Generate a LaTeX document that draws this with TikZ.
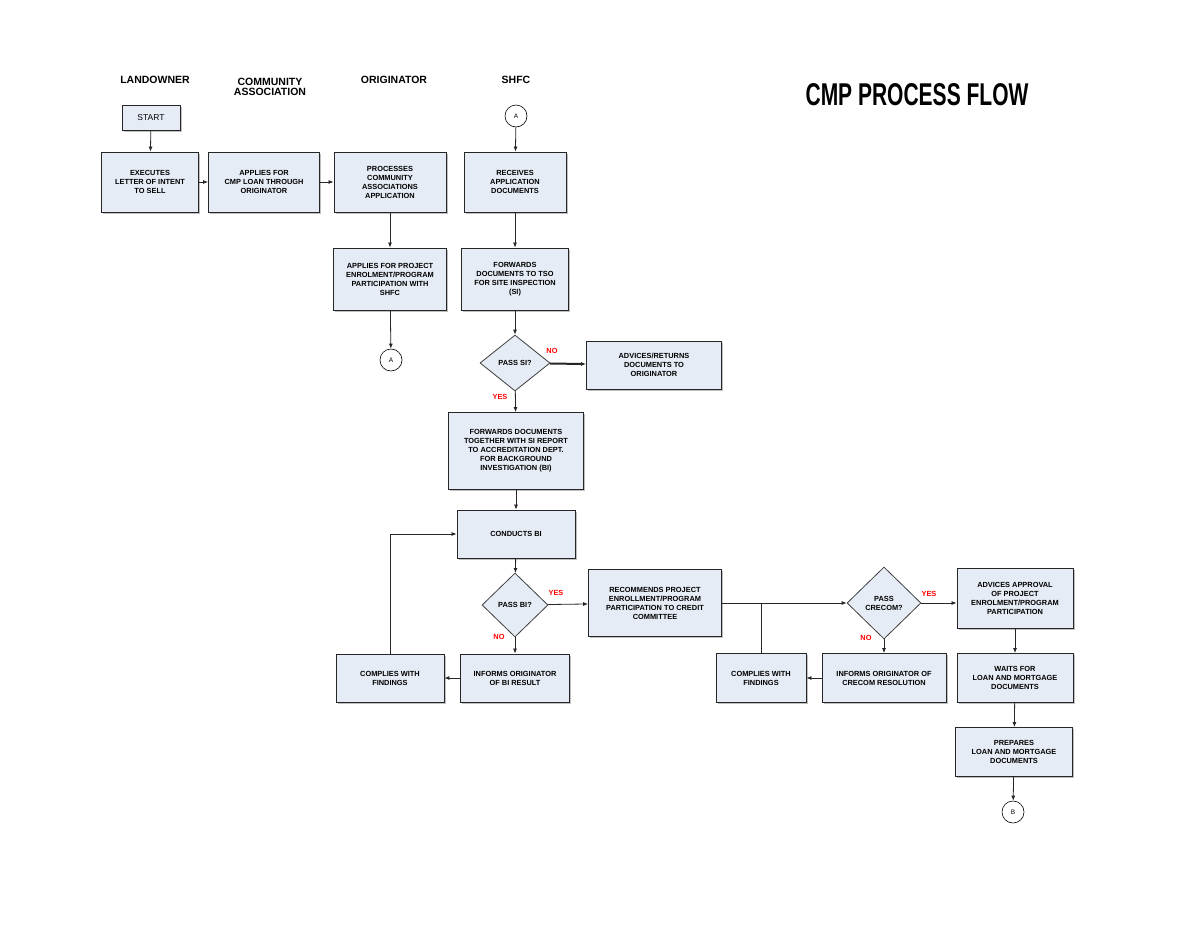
\documentclass[tikz,border=0pt]{standalone}
\usepackage{fontspec}
\setmainfont{Liberation Sans}
\usetikzlibrary{shapes.geometric,arrows.meta,shadows}
\definecolor{boxfill}{HTML}{E6ECF5}
\tikzset{
  box/.style={draw=black!85,line width=0.9pt,fill=boxfill,align=center,inner sep=1pt,
    font=\bfseries\fontsize{7.4}{9}\selectfont,drop shadow={shadow xshift=1.5pt,shadow yshift=-1.5pt,opacity=0.5}},
  dec/.style={diamond,draw=black!75,line width=0.8pt,fill=boxfill,align=center,inner sep=0pt,
    font=\bfseries\fontsize{7.4}{9}\selectfont},
  conn/.style={circle,draw,line width=0.6pt,minimum size=22pt,inner sep=0pt,font=\fontsize{6.5}{7}\selectfont},
  arr/.style={-{Latex[length=5pt,width=4pt]},line width=0.8pt,black!85},
  head/.style={font=\bfseries\fontsize{10.5}{9.5}\selectfont,align=center},
  lab/.style={text=red,font=\bfseries\fontsize{7.4}{8}\selectfont}
}
\begin{document}
\begin{tikzpicture}[x=1pt,y=-1pt]
\useasboundingbox (0,0) rectangle (1200,927);
\fill[white] (0,0) rectangle (1200,927);
\node[head] at (155,80) {LANDOWNER};
\node[head] at (270,87) {COMMUNITY\\ASSOCIATION};
\node[head] at (394,80) {ORIGINATOR};
\node[head] at (516,80) {SHFC};
\node[font=\bfseries\fontsize{30}{30}\selectfont,xscale=0.7,yscale=1.05] at (917,95) {CMP PROCESS FLOW};

\node[box,minimum width=58pt,minimum height=25pt,font=\fontsize{8.5}{9}\selectfont] (start) at (151,118) {START};
\node[box,minimum width=97pt,minimum height=60pt] (exec) at (150,182) {EXECUTES\\LETTER OF INTENT\\TO SELL};
\node[box,minimum width=111pt,minimum height=60pt] (cmp) at (264,182) {APPLIES FOR\\CMP LOAN THROUGH\\ORIGINATOR};
\node[box,minimum width=112pt,minimum height=60pt] (proc) at (390,182) {PROCESSES\\COMMUNITY\\ASSOCIATIONS\\APPLICATION};
\node[box,minimum width=102pt,minimum height=60pt] (recv) at (515,182) {RECEIVES\\APPLICATION\\DOCUMENTS};
\node[conn] (a1) at (516,116) {A};
\node[box,minimum width=113pt,minimum height=62pt] (proj) at (390,279) {APPLIES FOR PROJECT\\ENROLMENT/PROGRAM\\PARTICIPATION WITH\\SHFC};
\node[box,minimum width=107pt,minimum height=62pt] (fwd) at (515,279) {FORWARDS\\DOCUMENTS TO TSO\\FOR SITE INSPECTION\\(SI)};
\node[conn] (a2) at (391,360) {A};
\node[dec,minimum width=70pt,minimum height=56pt] (si) at (515,363) {PASS SI?};
\node[box,minimum width=135pt,minimum height=48pt] (adv) at (654,365) {ADVICES/RETURNS\\DOCUMENTS TO\\ORIGINATOR};
\node[box,minimum width=135pt,minimum height=77pt] (fwd2) at (516,451) {FORWARDS DOCUMENTS\\TOGETHER WITH SI REPORT\\TO ACCREDITATION DEPT.\\FOR BACKGROUND\\INVESTIGATION (BI)};
\node[box,minimum width=118pt,minimum height=48pt] (cbi) at (516,534) {CONDUCTS BI};
\node[dec,minimum width=66pt,minimum height=64pt] (bi) at (515,605) {PASS BI?};
\node[box,minimum width=133pt,minimum height=67pt] (rec) at (655,603) {RECOMMENDS PROJECT\\ENROLLMENT/PROGRAM\\PARTICIPATION TO CREDIT\\COMMITTEE};
\node[box,minimum width=108pt,minimum height=48pt] (comp1) at (390,678) {COMPLIES WITH\\FINDINGS};
\node[box,minimum width=109pt,minimum height=48pt] (inf1) at (515,678) {INFORMS ORIGINATOR\\OF BI RESULT};
\node[dec,minimum width=74pt,minimum height=72pt] (cre) at (884,603) {PASS\\CRECOM?};
\node[box,minimum width=116pt,minimum height=60pt] (appr) at (1015,598) {ADVICES APPROVAL\\OF PROJECT\\ENROLMENT/PROGRAM\\PARTICIPATION};
\node[box,minimum width=90pt,minimum height=49pt] (comp2) at (761,678) {COMPLIES WITH\\FINDINGS};
\node[box,minimum width=124pt,minimum height=49pt] (inf2) at (884,678) {INFORMS ORIGINATOR OF\\CRECOM RESOLUTION};
\node[box,minimum width=116pt,minimum height=49pt] (wait) at (1015,678) {WAITS FOR\\LOAN AND MORTGAGE\\DOCUMENTS};
\node[box,minimum width=117pt,minimum height=49pt] (prep) at (1014,752) {PREPARES\\LOAN AND MORTGAGE\\DOCUMENTS};
\node[conn] (b) at (1013,812) {B};

\node[lab] at (552,351) {NO};
\node[lab] at (500,397) {YES};
\node[lab] at (556,593) {YES};
\node[lab] at (499,637) {NO};
\node[lab] at (929,594) {YES};
\node[lab] at (866,638) {NO};

\draw[arr] (start) -- (exec);
\draw[arr] (exec) -- (cmp);
\draw[arr] (cmp) -- (proc);
\draw[arr] (proc) -- (proj);
\draw[arr] (proj) -- (a2);
\draw[arr] (a1) -- (recv);
\draw[arr] (recv) -- (fwd);
\draw[arr] (fwd) -- (si);
\draw[arr,line width=2pt] (si) -- (adv);
\draw[arr] (si) -- (fwd2);
\draw[arr] (fwd2) -- (cbi);
\draw[arr] (cbi) -- (bi);
\draw[arr] (bi) -- (rec);
\draw[arr] (bi) -- (inf1);
\draw[arr] (inf1) -- (comp1);
\draw[arr] (comp1.north) |- (cbi.west);
\draw[arr] (rec.east) -- (cre.west);
\draw[line width=0.8pt,black!85] (comp2.north) -- (comp2.north |- rec.east);
\draw[arr] (cre.east) -- (cre.east -| appr.west);
\draw[arr] (cre) -- (inf2);
\draw[arr] (inf2) -- (comp2);
\draw[arr] (appr) -- (wait);
\draw[arr] (wait) -- (prep);
\draw[arr] (prep) -- (b);
\end{tikzpicture}
\end{document}
